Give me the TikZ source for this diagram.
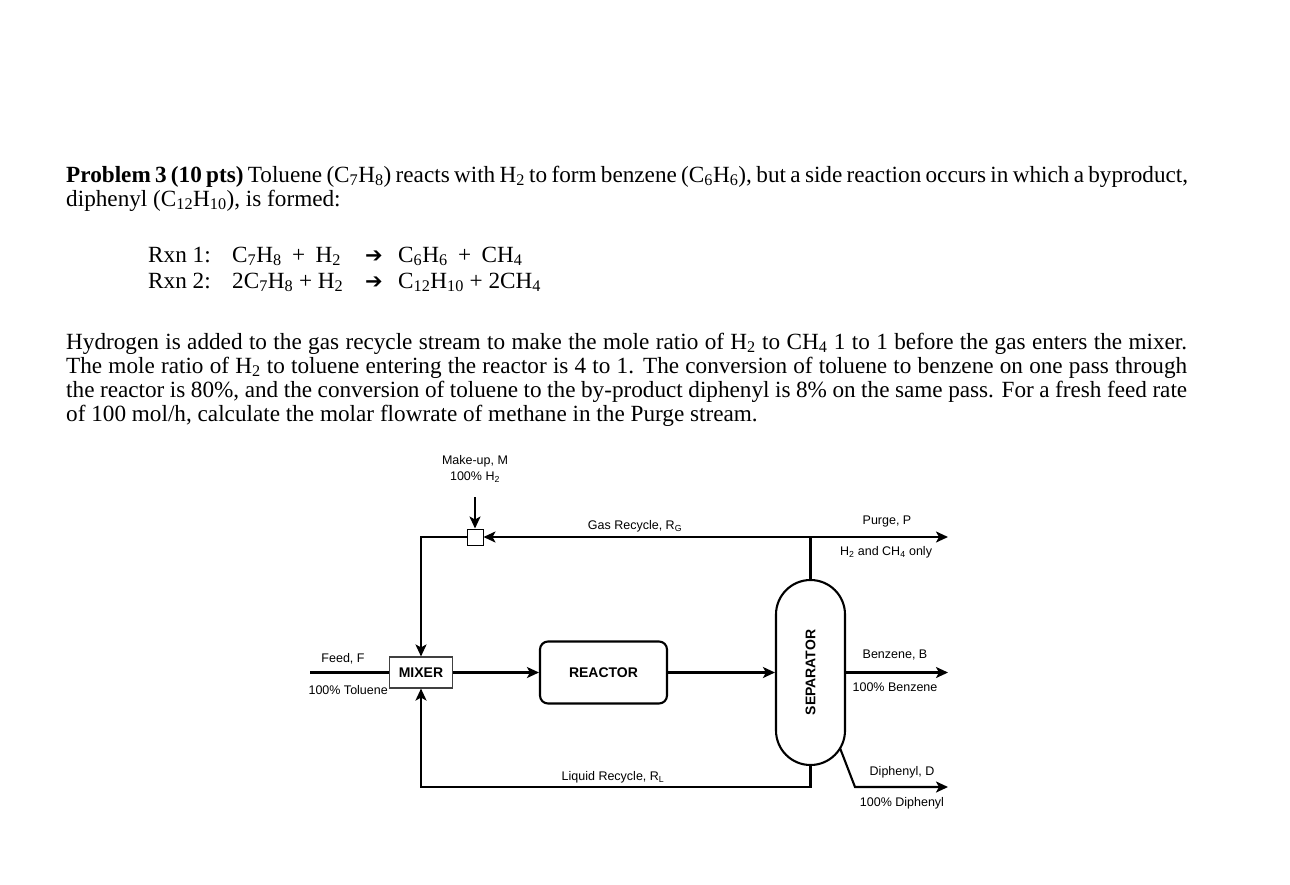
\documentclass[tikz,border=0pt]{standalone}
\usepackage{fontspec}
\setmainfont{Liberation Serif}
\newfontfamily\arial{Liberation Sans}
\newfontfamily\symf{DejaVu Sans}
\usetikzlibrary{arrows.meta,calc}
\begin{document}
\begin{tikzpicture}[x=1pt,y=-1pt,
  txt/.style={anchor=base west,inner sep=0pt,font=\fontsize{23.2}{24}\selectfont},
  lbl/.style={inner sep=0pt,font=\arial\fontsize{12.5}{16}\selectfont},
  unit/.style={draw,line width=2.1pt,font=\arial\bfseries\fontsize{14}{16}\selectfont,inner sep=0pt},
  flow/.style={line width=2.1pt},
  arr/.style={flow,-{Stealth[length=12pt,width=11pt,inset=3pt]}}]
\useasboundingbox (0,0) rectangle (1290,884);
\fill[white] (0,0) rectangle (1290,884);
% ---------- text ----------
\node[txt] (l1) at (66,182) {\makebox[1122pt][s]{\textbf{Problem 3 (10 pts)} Toluene (C\textsubscript{7}H\textsubscript{8}) reacts with H\textsubscript{2} to form benzene (C\textsubscript{6}H\textsubscript{6}), but a side reaction occurs in which a byproduct,}};
\node[txt] (l2) at (66,206) {diphenyl (C\textsubscript{12}H\textsubscript{10}), is formed:};
\node[txt] (r1a) at (148,262) {Rxn 1:};
\node[txt] (r1b) at (232,262) {C\textsubscript{7}H\textsubscript{8}\hspace{.45em}+\hspace{.45em}H\textsubscript{2}};
\node[txt] (r1c) at (365,262) {{\symf\fontsize{21}{21}\selectfont ➔}};
\node[txt] (r1d) at (398,262) {C\textsubscript{6}H\textsubscript{6}\hspace{.45em}+\hspace{.45em}CH\textsubscript{4}};
\node[txt] (r2a) at (148,288) {Rxn 2:};
\node[txt] (r2b) at (232,288) {2C\textsubscript{7}H\textsubscript{8} + H\textsubscript{2}};
\node[txt] (r2c) at (365,288) {{\symf\fontsize{21}{21}\selectfont ➔}};
\node[txt] (r2d) at (398,288) {C\textsubscript{12}H\textsubscript{10} + 2CH\textsubscript{4}};
\node[txt] (p1) at (66,349) {\makebox[1121pt][s]{Hydrogen is added to the gas recycle stream to make the mole ratio of H\textsubscript{2} to CH\textsubscript{4} 1 to 1 before the gas enters the mixer.}};
\node[txt] (p2) at (66,373) {\makebox[1121pt][s]{The mole ratio of H\textsubscript{2} to toluene entering the reactor is 4 to 1. The conversion of toluene to benzene on one pass through}};
\node[txt] (p3) at (66,397) {\makebox[1121pt][s]{the reactor is 80\%, and the conversion of toluene to the by-product diphenyl is 8\% on the same pass. For a fresh feed rate}};
\node[txt] (p4) at (66,421) {of 100 mol/h, calculate the molar flowrate of methane in the Purge stream.};
% ---------- diagram ----------
\node[lbl,align=center] (mk) at (475,469) {Make-up, M\\100\% H\textsubscript{2}};
\coordinate (mktop) at (475,497);
\node[draw,line width=1pt,minimum size=16pt,inner sep=0pt] (jn) at (475,537) {};
\node[unit,line width=1.1pt,draw=black!75,minimum width=63pt,minimum height=31pt] (mix) at (421,672.5) {MIXER};
\node[unit,rounded corners=8pt,minimum width=127pt,minimum height=62pt] (rx) at (603.5,672.5) {REACTOR};
\node[unit,rounded corners=34.5pt,minimum width=69pt,minimum height=185pt] (sep) at (810.5,672.5) {\rotatebox{90}{SEPARATOR}};
\coordinate (feedin) at (310,672.5);
\coordinate (gtee) at (sep.north |- jn);
\coordinate (purge) at (948,537);
\coordinate (benz) at (948,672.5);
\coordinate (dbend) at (855,787);
\coordinate (dout) at (948,787);
\coordinate (ds) at ($(sep.south)+(29.5,-18)$);
\coordinate (lbot) at (sep.south |- dbend);
\draw[arr] (mktop) -- (jn.north);
\draw[flow] (sep.north) -- (gtee);
\draw[arr] (gtee) -- (jn.east);
\draw[arr] (gtee) -- (purge);
\draw[arr] (jn.west) -| (mix.north);
\draw[flow] (feedin) -- (mix.west);
\draw[arr] (mix) -- (rx);
\draw[arr] (rx) -- (sep);
\draw[arr] (sep.east) -- (benz);
\draw[arr] (ds) -- (dbend) -- (dout);
\draw[arr] (sep.south) -- (lbot) -| (mix.south);
\node[lbl] (gr) at (635,526) {Gas Recycle, R\textsubscript{G}};
\node[lbl] (pp) at (887,521) {Purge, P};
\node[lbl] (pc) at (886,552) {H\textsubscript{2} and CH\textsubscript{4} only};
\node[lbl] (ff) at (343,659) {Feed, F};
\node[lbl,anchor=east] (ft) at (388,690) {100\% Toluene};
\node[lbl] (bb) at (895,655) {Benzene, B};
\node[lbl] (bp) at (895,687) {100\% Benzene};
\node[lbl] (dd) at (902,772) {Diphenyl, D};
\node[lbl] (dp) at (902,803) {100\% Diphenyl};
\node[lbl] (lr) at (613,777) {Liquid Recycle, R\textsubscript{L}};
\end{tikzpicture}
\end{document}
